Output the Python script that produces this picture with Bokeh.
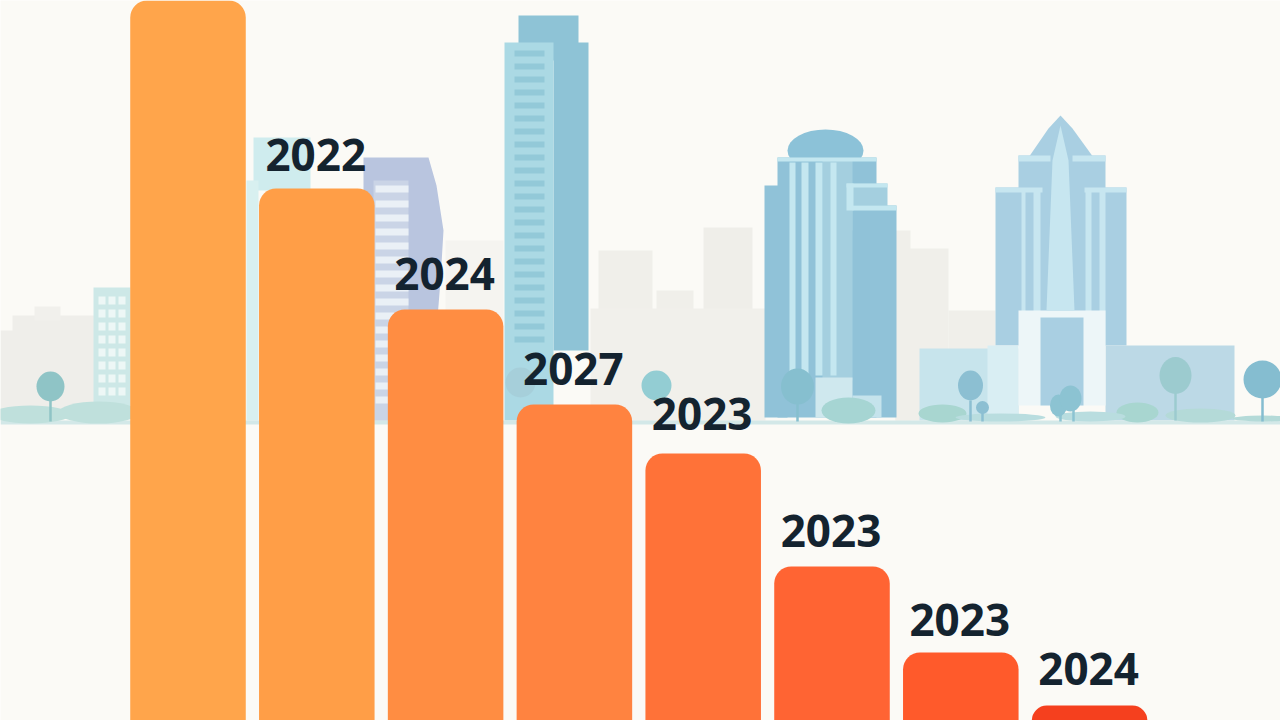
from bokeh.plotting import figure
from bokeh.models import Range1d
from bokeh.core.properties import value
from bokeh.embed import file_html
from bokeh.resources import INLINE

# ---- chart data
bar_order = [0, 1, 2, 3, 4, 5, 6, 7]
bar_values = [722, 532, 411, 316, 267, 154, 68, 15]
bar_colors = ["#FFA54B", "#FF9E47", "#FF8D42", "#FF8340", "#FF7238", "#FF6433", "#FF5A2B", "#F5401E"]
year_labels = ["", "2022", "2024", "2027", "2023", "2023", "2023", "2024"]
label_gaps = [0, 16, 18, 18, 22, 18, 15, 19]

# ---- decorative skyline (x0, x1, top, bottom, colour), in picture pixels
far_buildings = [
    (0, 94, 330, 418, "#EFEEEA"), (12, 94, 315, 418, "#EFEEEA"), (34, 60, 306, 320, "#F1F0EC"),
    (445, 503, 240, 420, "#F5F4F0"), (598, 652, 250, 420, "#F0EFEA"), (656, 693, 290, 420, "#F0EFEA"),
    (703, 752, 227, 420, "#EFEEE9"), (590, 765, 308, 420, "#F1F0EB"),
    (895, 910, 230, 420, "#F0EFEA"), (895, 948, 248, 420, "#F0EFEA"), (948, 995, 310, 420, "#F0EFEA"),
]
crowns = [
    ([363, 428, 436, 443, 440, 436, 432, 363], [157, 157, 185, 230, 280, 330, 420, 420], "#B9C5DF"),
    ([1028, 1048, 1060, 1072, 1093], [157, 128, 115, 128, 157], "#A9CFE2"),
    ([1052, 1060, 1068, 1074, 1046], [160, 125, 160, 310, 310], "#C7E6F0"),
]
main_buildings = [
    (93, 130, 287, 416, "#CDE8E7"),
    (253, 310, 137, 190, "#CFECEE"),
    (246, 258, 180, 420, "#D8F0F0"),
    (373, 408, 180, 420, "#CAD4E6"),
    (518, 578, 15, 60, "#8EC3D6"), (553, 588, 42, 350, "#8EC3D6"), (504, 553, 42, 420, "#ABD9E4"),
    (764, 787, 185, 417, "#90C2D8"), (777, 876, 157, 417, "#90C2D8"), (846, 887, 183, 230, "#A4CFDF"),
    (852, 896, 205, 417, "#90C2D8"), (822, 852, 160, 380, "#A4CFDF"),
    (789, 795, 162, 375, "#C4E7F0"), (801, 808, 162, 375, "#C4E7F0"), (815, 822, 162, 375, "#C4E7F0"),
    (830, 836, 162, 375, "#C4E7F0"), (777, 876, 157, 161, "#C4E7F0"), (846, 887, 183, 187, "#C4E7F0"),
    (846, 853, 183, 210, "#C4E7F0"), (852, 896, 205, 210, "#C4E7F0"),
    (815, 852, 377, 417, "#CFE8EE"), (852, 881, 395, 417, "#C5E3EC"),
    (995, 1126, 187, 345, "#A9CFE2"), (1018, 1105, 155, 190, "#A9CFE2"), (1040, 1083, 157, 345, "#A9CFE2"),
    (1018, 1050, 155, 161, "#C7E6F0"), (1072, 1105, 155, 161, "#C7E6F0"),
    (995, 1042, 187, 192, "#C7E6F0"), (1084, 1126, 187, 192, "#C7E6F0"),
    (1021, 1025, 190, 345, "#C7E6F0"), (1033, 1040, 190, 320, "#C7E6F0"),
    (1085, 1091, 190, 320, "#C7E6F0"), (1099, 1105, 190, 345, "#C7E6F0"),
    (919, 1018, 348, 420, "#C7E4EC"), (987, 1018, 345, 420, "#D9EEF3"),
    (1105, 1234, 345, 420, "#BCD9E6"), (1018, 1105, 310, 405, "#EDF6F8"),
    (1040, 1083, 317, 405, "#A9CFE2"),
    (0, 1280, 420, 424, "#D3E8E8"),
]
stripe_tops_tower = [50, 63, 76, 89, 102, 115, 128, 141, 154, 167, 180, 193, 206, 219, 232,
                     245, 258, 271, 284, 297, 310, 323, 336]
stripe_tops_purple = [185, 200, 214, 228, 242, 256, 270, 284, 298, 312, 326, 340, 354, 368, 382, 396]
window_xs = [98, 108, 118]
window_ys = [296, 309, 322, 335, 348, 361, 374, 387]
tree_crowns = [
    (50, 386, 28, 30, "#8FC4C6"), (520, 382, 30, 30, "#A6CFDA"), (656, 385, 30, 30, "#93CDD3"),
    (797, 386, 33, 36, "#86BFCF"), (970, 385, 25, 30, "#8CBFD2"), (982, 407, 13, 13, "#8CBFD2"),
    (1058, 405, 17, 22, "#8CC3D2"), (1070, 398, 22, 26, "#8CC3D2"), (1175, 375, 32, 37, "#9CCBCF"),
    (1262, 379, 38, 38, "#85BDD0"),
]
tree_trunks = [(50, 400, 421, "#8FC4C6"), (797, 403, 421, "#86BFCF"), (970, 400, 421, "#8CBFD2"),
               (982, 412, 421, "#8CBFD2"), (1060, 412, 421, "#8CC3D2"), (1073, 408, 421, "#8CC3D2"),
               (1175, 392, 420, "#9CCBCF"), (1262, 397, 421, "#85BDD0")]
bushes = [
    (30, 414, 80, 18, "#BFE0DC"), (98, 412, 80, 22, "#BFE0DC"),
    (848, 410, 54, 26, "#A6D5D3"), (942, 413, 48, 18, "#A8D6D0"), (1000, 417, 90, 8, "#B9DDDF"),
    (1137, 412, 42, 20, "#A8D6D0"), (1090, 416, 70, 10, "#B9DDDF"), (1200, 415, 70, 14, "#B4DAD8"),
    (1262, 418, 60, 6, "#B4DAD8"),
]

p = figure(width=1280, height=720, output_backend="svg", toolbar_location=None,
           x_range=Range1d(-187.5 / 128.8, (1280 - 187.5) / 128.8), y_range=Range1d(0, 720),
           x_axis_location=None, y_axis_location=None, min_border=0,
           background_fill_color="#FBFAF6", border_fill_color="#FBFAF6", outline_line_color=None)
p.grid.visible = False
p.extra_x_ranges = {"px": Range1d(0, 1280)}


def rects(items):
    p.quad(left=[r[0] for r in items], right=[r[1] for r in items],
           top=[720 - r[2] for r in items], bottom=[720 - r[3] for r in items],
           color=[r[4] for r in items], line_color=None, x_range_name="px")


rects(far_buildings)
p.patches(xs=[c[0] for c in crowns[:2]], ys=[[720 - v for v in c[1]] for c in crowns[:2]],
          color=[c[2] for c in crowns[:2]], line_color=None, x_range_name="px")
p.ellipse(x=[825], y=[720 - 150], width=[76], height=[42], color="#8CC2D8", line_color=None, x_range_name="px")
rects(main_buildings)
p.patches(xs=[crowns[2][0]], ys=[[720 - v for v in crowns[2][1]]], color=crowns[2][2], line_color=None,
          x_range_name="px")
rects([(514, 544, t, t + 6, "#93C9D8") for t in stripe_tops_tower])
rects([(375, 408, t, t + 7, "#EAF0F6") for t in stripe_tops_purple])
rects([(x, x + 7, y, y + 8, "#EDF7F6") for x in window_xs for y in window_ys])
p.ellipse(x=[b[0] for b in bushes], y=[720 - b[1] for b in bushes], width=[b[2] for b in bushes],
          height=[b[3] for b in bushes], color=[b[4] for b in bushes], line_color=None, x_range_name="px")
p.segment(x0=[t[0] for t in tree_trunks], x1=[t[0] for t in tree_trunks],
          y0=[720 - t[1] for t in tree_trunks], y1=[720 - t[2] for t in tree_trunks],
          line_color=[t[3] for t in tree_trunks], line_width=2.5, x_range_name="px")
p.ellipse(x=[t[0] for t in tree_crowns], y=[720 - t[1] for t in tree_crowns], width=[t[2] for t in tree_crowns],
          height=[t[3] for t in tree_crowns], color=[t[4] for t in tree_crowns], line_color=None, x_range_name="px")

# ---- bars and their labels
p.vbar(x=bar_order, top=bar_values, bottom=-40, width=0.897, color=bar_colors, line_color=None,
       border_radius=(17, 17, 0, 0))
shown = [i for i in bar_order if year_labels[i]]
p.text(x=[i - 0.008 for i in shown], y=[bar_values[i] + label_gaps[i] + 18 for i in shown],
       text=[year_labels[i] for i in shown],
       text_align="center", text_baseline="alphabetic",
       text_font=value("Noto Sans"), text_font_style="bold", text_font_size=value("44px"), text_color="#14232F")

open("out.html", "w").write(file_html(p, INLINE))
